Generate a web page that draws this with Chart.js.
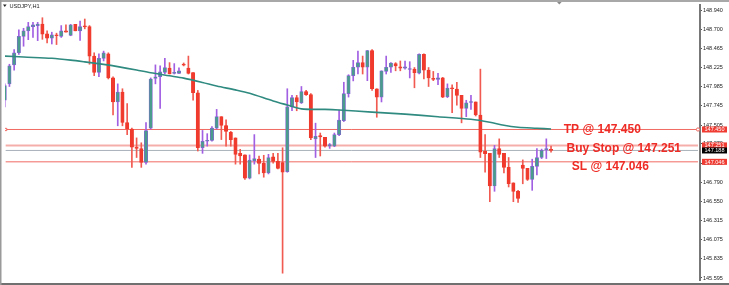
<!DOCTYPE html>
<html>
<head>
<meta charset="utf-8">
<script src="https://cdn.jsdelivr.net/npm/chart.js@4.4.1/dist/chart.umd.min.js"></script>
<style>
  html, body { margin: 0; padding: 0; background: #fff; }
  canvas { display: block; }
</style>
</head>
<body>
<canvas id="myChart" width="729" height="285"></canvas>
<script>
//////////////////////////// DATA //////////////////////////////////////
const candleOpen = [
  147.815, 148.020, 148.257, 148.408, 148.613, 148.682, 148.735, 148.748, 148.768, 148.646,
  148.592, 148.633, 148.613, 148.682, 148.625, 148.763, 148.682, 148.744, 148.735, 148.367,
  148.162, 148.339, 148.395, 148.094, 147.794, 147.917, 147.537, 147.456, 147.230, 147.210,
  147.038, 147.468, 148.089, 148.109, 148.162, 148.216, 148.150, 148.150, 148.260, 148.216,
  148.162, 147.909, 147.222, 147.303, 147.312, 147.468, 147.610, 147.500, 147.414, 147.345,
  147.152, 147.132, 146.842, 147.058, 147.079, 147.026, 146.907, 147.107, 147.051, 147.038,
  146.923, 147.733, 147.848, 147.782, 147.925, 147.885, 147.333, 147.373, 147.352, 147.242,
  147.242, 147.386, 147.561, 147.897, 148.122, 148.228, 148.285, 148.228, 148.437, 147.959,
  147.855, 148.175, 148.228, 148.273, 148.232, 148.216, 148.199, 148.204, 148.155, 148.388,
  148.192, 148.089, 148.076, 148.094, 147.860, 147.971, 147.954, 147.876, 147.713, 147.787,
  147.794, 147.631, 147.181, 147.152, 146.744, 147.210, 147.152, 146.977, 146.784, 146.678,
  147.005, 146.965, 146.825, 146.989, 147.100, 147.198, 147.202
];
const candleHigh = [
  148.020, 148.265, 148.449, 148.695, 148.714, 148.788, 148.788, 148.788, 148.846, 148.682,
  148.665, 148.653, 148.748, 148.756, 148.763, 148.763, 148.805, 148.830, 148.748, 148.408,
  148.395, 148.429, 148.408, 148.109, 148.020, 147.959, 147.775, 147.468, 147.345, 147.284,
  147.537, 148.094, 148.257, 148.244, 148.339, 148.285, 148.273, 148.220, 148.281, 148.367,
  148.162, 147.938, 147.438, 147.398, 147.487, 147.701, 147.610, 147.570, 147.426, 147.345,
  147.202, 147.132, 147.132, 147.386, 147.119, 147.128, 147.140, 147.152, 147.152, 147.222,
  147.959, 147.876, 147.876, 147.987, 147.938, 147.897, 147.529, 147.406, 147.352, 147.275,
  147.406, 147.692, 148.040, 148.134, 148.314, 148.429, 148.367, 148.437, 148.449, 147.959,
  148.183, 148.367, 148.285, 148.285, 148.306, 148.306, 148.297, 148.224, 148.395, 148.395,
  148.224, 148.175, 148.150, 148.101, 148.020, 148.008, 148.040, 147.876, 147.815, 147.876,
  147.794, 148.204, 147.386, 147.152, 147.251, 147.333, 147.152, 147.100, 146.784, 146.690,
  147.070, 146.965, 147.079, 147.210, 147.205, 147.333, 147.242
];
const candleLow = [
  147.733, 147.987, 148.192, 148.388, 148.490, 148.572, 148.600, 148.560, 148.576, 148.530,
  148.518, 148.511, 148.600, 148.665, 148.621, 148.682, 148.563, 148.707, 148.265, 148.122,
  148.109, 148.306, 148.081, 147.631, 147.496, 147.496, 147.386, 146.977, 147.100, 146.977,
  147.017, 147.456, 148.020, 147.713, 148.143, 148.143, 148.143, 148.146, 148.244, 148.143,
  147.815, 147.181, 147.152, 147.242, 147.303, 147.456, 147.324, 147.242, 147.242, 147.017,
  147.017, 146.825, 146.833, 147.017, 146.895, 146.854, 146.895, 147.030, 146.956, 145.655,
  146.916, 147.684, 147.684, 147.775, 147.876, 147.324, 147.100, 147.119, 147.230, 147.214,
  147.235, 147.373, 147.549, 147.855, 148.057, 148.143, 148.143, 148.060, 147.938, 147.603,
  147.794, 148.143, 148.162, 148.183, 148.183, 148.204, 148.094, 147.971, 148.143, 148.081,
  147.987, 148.060, 148.011, 147.848, 147.848, 147.659, 147.754, 147.533, 147.610, 147.701,
  147.619, 147.100, 146.916, 146.548, 146.678, 147.100, 146.907, 146.732, 146.548, 146.539,
  146.772, 146.813, 146.690, 146.882, 147.087, 147.087, 147.168
];
const candleClose = [
  147.999, 148.244, 148.408, 148.613, 148.682, 148.735, 148.756, 148.768, 148.641, 148.592,
  148.633, 148.621, 148.682, 148.665, 148.756, 148.682, 148.735, 148.732, 148.367, 148.162,
  148.339, 148.408, 148.094, 147.794, 147.917, 147.537, 147.456, 147.230, 147.214, 147.038,
  147.435, 148.081, 148.109, 148.171, 148.224, 148.143, 148.159, 148.183, 148.253, 148.150,
  147.909, 147.222, 147.303, 147.312, 147.468, 147.610, 147.500, 147.426, 147.324, 147.140,
  147.119, 146.842, 147.067, 147.087, 147.026, 146.907, 147.100, 147.051, 146.965, 146.916,
  147.733, 147.848, 147.794, 147.925, 147.885, 147.345, 147.365, 147.357, 147.242, 147.263,
  147.386, 147.566, 147.897, 148.122, 148.228, 148.285, 148.228, 148.437, 147.959, 147.855,
  148.183, 148.228, 148.281, 148.244, 148.216, 148.232, 148.211, 148.159, 148.388, 148.192,
  148.094, 148.076, 148.094, 147.855, 147.966, 147.959, 147.876, 147.713, 147.782, 147.794,
  147.631, 147.168, 147.149, 146.744, 147.210, 147.140, 146.977, 146.772, 146.678, 146.588,
  146.965, 146.825, 146.989, 147.100, 147.189, 147.205, 147.188
];

// moving average (bar index, price)
const maIdx = [0, 4, 10, 14, 17, 21, 24, 28, 31, 35, 38, 42, 45, 49, 52, 57, 60, 63, 68, 71, 78, 85, 92, 99, 103, 106, 109, 113, 116];
const maVal = [148.367, 148.355, 148.339, 148.317, 148.295, 148.263, 148.235, 148.192, 148.159, 148.121,
  148.092, 148.038, 147.993, 147.945, 147.903, 147.806, 147.756, 147.708, 147.701, 147.693,
  147.667, 147.642, 147.610, 147.578, 147.541, 147.502, 147.478, 147.465, 147.456];

const yTicks = [148.940, 148.700, 148.465, 148.225, 147.985, 147.745, 147.505, 147.270, 147.030,
  146.790, 146.550, 146.315, 146.075, 145.835, 145.595];

const levelNames = ['TP', 'Buy Stop', 'SL'];
const levelPrices = [147.450, 147.251, 147.046];
const bidPrice = 147.188;
const symbolTitle = 'USDJPY,H1';

//////////////////////////// COLOURS //////////////////////////////////////
const bullFill = '#4a9c8d';
const bullEdge = '#8462d4';
const bullWick = '#a15fe2';
const bearFill = '#ef3a2d';
const bearWick = '#f15a50';
const levelRed = '#f06a62';

const X_MIN = 0.06, X_MAX = 147.63;

const isBull = i => candleClose[i] >= candleOpen[i];

const bodies = candleOpen.map((o, i) => ({ x: i, y: [o, candleClose[i]] }));
const wicks = candleLow.map((l, i) => ({ x: i, y: [l, candleHigh[i]] }));
const maLine = maIdx.map((x, i) => ({ x: x, y: maVal[i] }));

function levelLine(p) {
  return [{ x: 0.2, y: p }, { x: 147.2, y: p }];
}

//////////////////////////// OVERLAY PLUGIN //////////////////////////////////////
const overlay = {
  id: 'overlay',
  beforeDraw(chart) {
    const c = chart.ctx;
    c.save();
    c.fillStyle = '#fff';
    c.fillRect(0, 0, chart.width, chart.height);
    c.restore();
  },
  afterDraw(chart) {
    const c = chart.ctx;
    const xs = chart.scales.x, ys = chart.scales.y;
    c.save();

    // order labels next to the lines
    const anchors = [118.7, 119.3, 120.4];
    const dy = [0.6, 3, 4.5];
    c.font = 'bold 12px "Liberation Sans", Arial, sans-serif';
    c.fillStyle = '#ee2b25';
    c.textBaseline = 'middle';
    c.textAlign = 'left';
    levelNames.forEach((n, i) => {
      const txt = n + ' @ ' + levelPrices[i].toFixed(3);
      c.fillText(txt, xs.getPixelForValue(anchors[i]), ys.getPixelForValue(levelPrices[i]) + dy[i]);
    });

    // price tags on the axis
    const tags = levelPrices.map(p => ({ p: p, bg: '#ef3b32' }));
    tags.push({ p: bidPrice, bg: '#000' });
    c.font = '5.5px "Liberation Sans", Arial, sans-serif';
    c.textAlign = 'center';
    tags.forEach(t => {
      const y = ys.getPixelForValue(t.p);
      c.fillStyle = t.bg;
      c.fillRect(702, y - 3, 25, 6);
      c.fillStyle = '#fff';
      c.fillText(t.p.toFixed(3), 714.5, y + 0.3);
    });

    // frame
    c.fillStyle = '#a8a8a8';
    c.fillRect(0, 0, chart.width, 2);
    c.fillStyle = '#707070';
    c.fillRect(0, 283, chart.width, 2);
    c.fillStyle = '#9a9a9a';
    c.fillRect(0, 0, 1.5, chart.height);

    // chart shift marker
    c.fillStyle = '#8a8a8a';
    c.beginPath();
    c.moveTo(557, 2); c.lineTo(561.6, 2); c.lineTo(559.3, 4.6);
    c.closePath(); c.fill();

    // symbol title
    c.fillStyle = '#222';
    c.beginPath();
    c.moveTo(3, 4.6); c.lineTo(6.6, 4.6); c.lineTo(4.8, 7);
    c.closePath(); c.fill();
    c.font = '5.6px "Liberation Sans", Arial, sans-serif';
    c.textAlign = 'left';
    c.fillText(symbolTitle, 9.5, 6);

    c.restore();
  }
};

//////////////////////////// CHART //////////////////////////////////////
const ctx = document.getElementById('myChart').getContext('2d');
const myChart = new Chart(ctx, {
  data: {
    datasets: [
      {
        type: 'line', label: 'bid', data: levelLine(bidPrice),
        borderColor: '#a9b1ba', borderWidth: 1, pointRadius: 0, order: 10
      },
      {
        type: 'line', label: 'TP', data: levelLine(levelPrices[0]),
        borderColor: levelRed, borderWidth: 1, order: 9,
        pointStyle: ['rect', 'circle'], pointRadius: 1.6,
        pointBackgroundColor: '#fff', pointBorderColor: levelRed, pointBorderWidth: 1
      },
      {
        type: 'line', label: 'Buy Stop', data: levelLine(levelPrices[1]),
        borderColor: '#f6aeaa', borderWidth: 2, pointRadius: 0, order: 9
      },
      {
        type: 'line', label: 'SL', data: levelLine(levelPrices[2]),
        borderColor: levelRed, borderWidth: 1, pointRadius: 0, order: 9
      },
      {
        type: 'bar', label: 'wicks', data: wicks, grouped: false,
        barThickness: 1, minBarLength: 1,
        backgroundColor: wicks.map((w, i) => isBull(i) ? bullWick : bearWick),
        order: 5
      },
      {
        type: 'bar', label: 'bodies', data: bodies, grouped: false,
        barThickness: 3.4, minBarLength: 1, borderSkipped: false, borderWidth: 0.7,
        backgroundColor: bodies.map((b, i) => isBull(i) ? bullFill : bearFill),
        borderColor: bodies.map((b, i) => isBull(i) ? bullEdge : bearFill),
        order: 4
      },
      {
        type: 'line', label: 'MA', data: maLine,
        borderColor: '#2f8a80', borderWidth: 1.6, pointRadius: 0, tension: 0.3, order: 1
      }
    ]
  },
  options: {
    responsive: false,
    animation: false,
    events: [],
    layout: { padding: { left: 2, top: 3, right: 0, bottom: 2 } },
    plugins: { legend: { display: false }, tooltip: { enabled: false } },
    scales: {
      x: { type: 'linear', min: X_MIN, max: X_MAX, offset: false, display: false },
      y: {
        position: 'right',
        min: 145.570,
        max: 149.005,
        afterFit: function (scale) { scale.width = 29; },
        afterBuildTicks: function (scale) {
          scale.ticks = yTicks.map(v => ({ value: v }));
        },
        ticks: {
          autoSkip: false,
          padding: 1,
          color: '#222',
          font: { size: 5.5, family: '"Liberation Sans", Arial, sans-serif' },
          callback: v => v.toFixed(3)
        },
        grid: { drawOnChartArea: false, tickLength: 2, color: '#555' },
        border: { color: '#777', width: 2 }
      }
    }
  },
  plugins: [overlay]
});
</script>
</body>
</html>
